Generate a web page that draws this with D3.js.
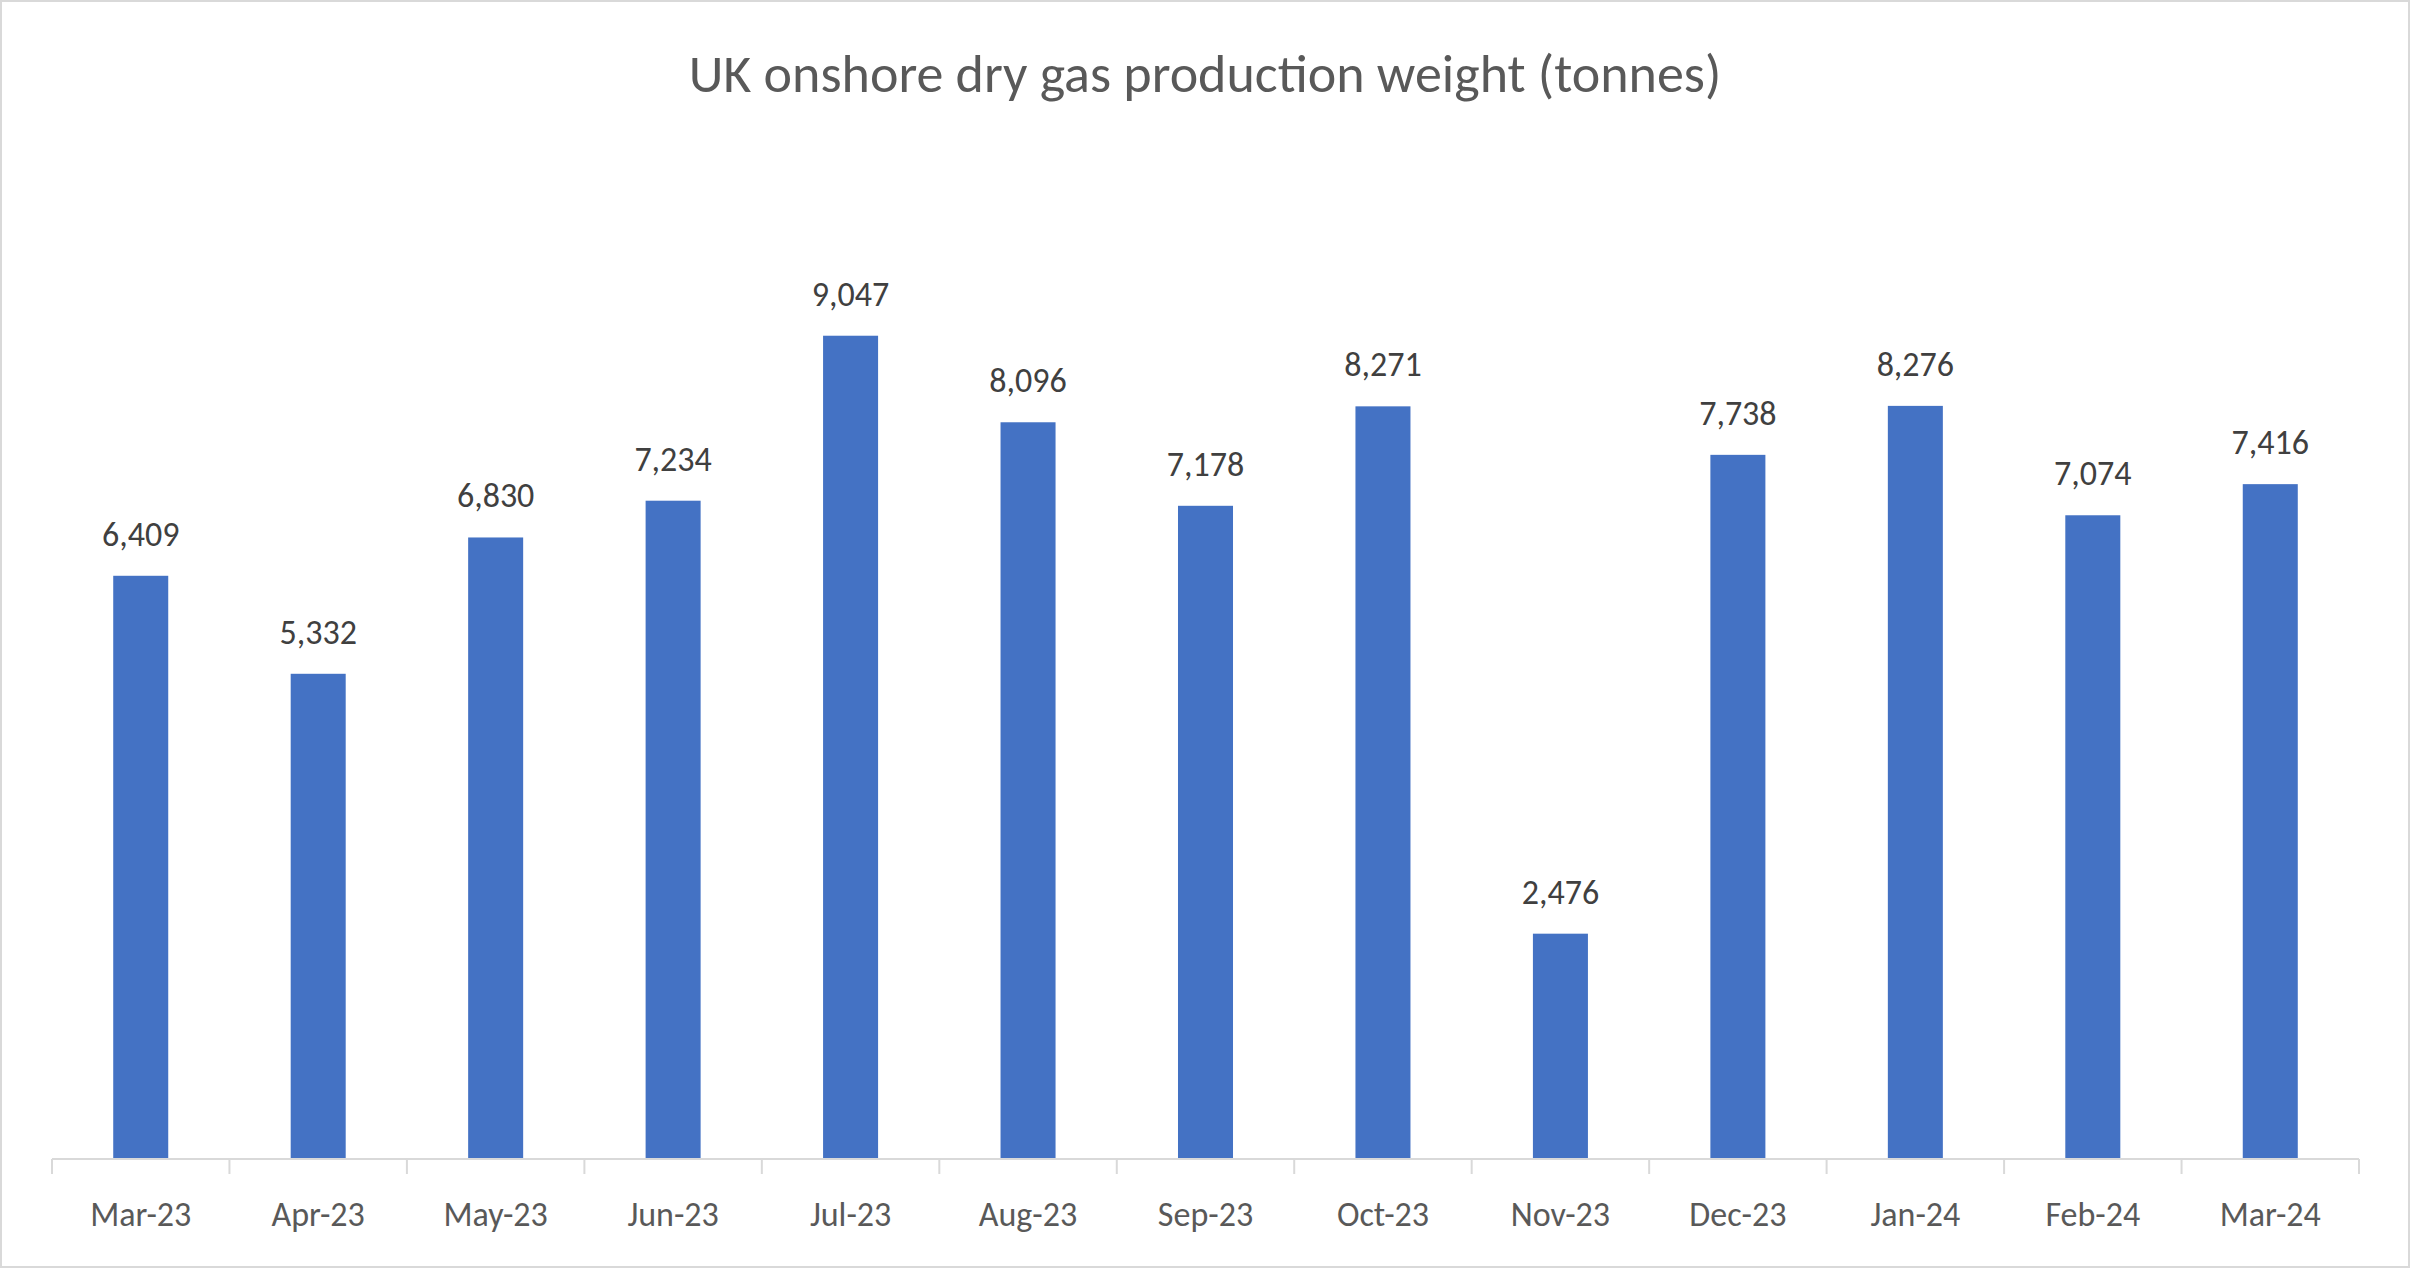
<!DOCTYPE html>
<html><head><meta charset="utf-8">
<script src="https://cdn.jsdelivr.net/npm/d3@7"></script>
<style>body{margin:0;background:#fff}svg{display:block}</style>
</head><body>
<div id="chart"></div>
<script>
var months = ['Mar-23','Apr-23','May-23','Jun-23','Jul-23','Aug-23','Sep-23','Oct-23','Nov-23','Dec-23','Jan-24','Feb-24','Mar-24'];
var tonnes = [6409,5332,6830,7234,9047,8096,7178,8271,2476,7738,8276,7074,7416];

var W = 2410, H = 1268;
var plotLeft = 52, plotRight = 2359, base = 1159, plotTop = 249;
var font = 'Calibri, Carlito, "Open Sans", "Liberation Sans", sans-serif';

var svg = d3.select('#chart').append('svg').attr('width', W).attr('height', H);
svg.append('rect').attr('x',1).attr('y',1).attr('width',W-2).attr('height',H-2)
   .attr('fill','#fff').attr('stroke','#d9d9d9').attr('stroke-width',2);

var x = d3.scaleBand().domain(months).range([plotLeft, plotRight]).paddingInner(0.69).paddingOuter(0.345);
var y = d3.scaleLinear().domain([0, 10000]).range([base, plotTop]);

svg.append('text').attr('x', W/2).attr('y', 92).attr('text-anchor','middle')
   .attr('font-family', font).attr('font-size', 54).attr('fill','#595959')
   .text('UK onshore dry gas production weight (tonnes)');

svg.selectAll('rect.bar').data(tonnes).enter().append('rect').attr('class','bar')
   .attr('x', function(d,i){ return x(months[i]); })
   .attr('y', function(d){ return y(d); })
   .attr('width', x.bandwidth())
   .attr('height', function(d){ return base - y(d); })
   .attr('fill', '#4472c4');

svg.selectAll('text.val').data(tonnes).enter().append('text').attr('class','val')
   .attr('x', function(d,i){ return x(months[i]) + x.bandwidth()/2; })
   .attr('y', function(d){ return y(d) - 30; })
   .attr('text-anchor','middle').attr('font-family', font).attr('font-size', 34).attr('fill','#404040')
   .text(d3.format(','));

// axis line and ticks between categories
svg.append('line').attr('x1',plotLeft).attr('x2',plotRight).attr('y1',base).attr('y2',base)
   .attr('stroke','#d9d9d9').attr('stroke-width',2);
d3.range(months.length + 1).forEach(function(i){
  var tx = plotLeft + i * (plotRight-plotLeft)/months.length;
  svg.append('line').attr('x1',tx).attr('x2',tx).attr('y1',base).attr('y2',base+15)
     .attr('stroke','#d9d9d9').attr('stroke-width',2);
});
svg.selectAll('text.cat').data(months).enter().append('text').attr('class','cat')
   .attr('x', function(d){ return x(d) + x.bandwidth()/2; })
   .attr('y', 1226).attr('text-anchor','middle').attr('font-family', font)
   .attr('font-size', 34).attr('fill','#595959').text(function(d){ return d; });
</script>
</body></html>
